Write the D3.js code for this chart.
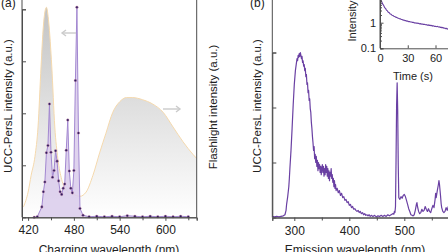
<!DOCTYPE html>
<html><head><meta charset="utf-8">
<script src="https://cdn.jsdelivr.net/npm/d3@7"></script>
<style>
html,body{margin:0;padding:0;background:#fff;}
svg{display:block;font-family:"Liberation Sans",Arial,sans-serif;}
</style></head>
<body>
<svg id="c" width="448" height="252"></svg>
<script>
// ---------- Panel (a) data ----------
const chargeWl = [428,432,438,440,442,444,446,448,450,452,454,456,458,460,462,464,466,468,470,472,474,476,478,480,482,484,486,488,492,500,510,520,530,540,550,560,570,580,590,600,610,620,630];
const uccPersL = [0.00,0.01,0.20,0.49,0.68,1.24,1.38,2.18,1.25,0.77,0.90,1.28,1.08,0.70,0.49,0.44,0.56,0.64,1.29,1.87,0.89,0.56,0.47,0.90,2.63,4.04,1.62,0.17,0.04,0.01,0.02,0.01,0.02,0.01,0.03,0.02,0.01,0.02,0.01,0.02,0.01,0.02,0.01];
const flashWl = [414,420,424,429,433,437,440,444,447,451,455,459,464,470,479,488,496,505,514,522,531,540,549,557,570,583,597,610,623,636,641];
const flashI  = [0.05,0.12,0.20,0.29,0.43,0.72,0.91,1.00,0.93,0.72,0.43,0.28,0.18,0.13,0.11,0.10,0.12,0.20,0.31,0.40,0.50,0.55,0.57,0.57,0.56,0.54,0.50,0.43,0.36,0.30,0.28];
const aMajorTicks = [420,480,540,600];
const aMinorTicks = [450,510,570,630];
const aYTicks = [1,2,3,4];

// ---------- Panel (b) data ----------
const emWl = [260,264,268,272,276,280,283,285,286,288,290,291,292,294,296,298,300,302,304,305,306,307,308,309,310,311,312,313,314,315,316,317,318,319,320,321,322,323,324,325,326,327,328,329,330,331,332,333,334,335,336,337,338,339,340,341,342,343,344,345,346,347,348,349,350,351,352,353,354,355,356,357,358,359,360,361,362,363,364,365,366,367,368,369,370,371,372,373,374,375,376,378,380,382,384,386,388,390,392,394,396,398,400,402,404,406,408,410,412,414,416,418,420,422,424,426,428,430,432,434,436,438,440,443,446,449,452,455,458,461,464,467,470,473,476,479,481,482,483,484,485,486,487,488,489,490,492,494,496,498,500,502,504,506,508,510,512,514,516,518,520,522,523,524,526,528,530,532,534,536,538,540,542,544,546,548,550,552,554,556,557,558,560,562,563,564,565,566,567,568,570,572,574,576,578,580,583,586,590,595];
const emInt = [0.02,0.01,0.02,0.01,0.02,0.03,0.05,0.13,0.24,0.38,0.56,0.71,0.89,1.22,1.62,2.05,2.42,2.67,2.82,2.89,2.85,2.95,2.91,2.98,2.93,3.00,2.95,2.89,2.93,2.82,2.85,2.75,2.78,2.67,2.71,2.56,2.60,2.42,2.45,2.27,2.31,2.13,2.16,1.98,1.91,1.73,1.62,1.47,1.36,1.22,1.29,1.07,1.15,1.00,1.11,0.93,1.04,0.85,1.00,0.89,0.96,0.82,0.93,0.78,0.89,0.96,0.82,0.93,0.75,0.89,0.78,0.96,0.82,0.93,0.75,0.89,0.71,0.85,0.67,0.82,0.75,0.89,0.71,0.78,0.64,0.71,0.56,0.67,0.53,0.60,0.49,0.53,0.45,0.49,0.40,0.44,0.36,0.38,0.31,0.33,0.27,0.29,0.22,0.24,0.18,0.20,0.15,0.16,0.13,0.11,0.13,0.09,0.11,0.07,0.09,0.05,0.07,0.04,0.05,0.03,0.05,0.02,0.04,0.02,0.04,0.01,0.03,0.02,0.04,0.02,0.04,0.02,0.05,0.03,0.05,0.07,0.06,0.11,0.09,0.20,1.04,2.04,2.45,1.95,0.95,0.36,0.33,0.38,0.35,0.40,0.42,0.38,0.31,0.24,0.16,0.11,0.05,0.04,0.03,0.05,0.13,0.24,0.27,0.20,0.11,0.07,0.09,0.15,0.11,0.13,0.20,0.15,0.11,0.16,0.11,0.09,0.16,0.22,0.18,0.33,0.44,0.36,0.49,0.60,0.67,0.60,0.49,0.38,0.25,0.18,0.11,0.09,0.11,0.18,0.13,0.20,0.13,0.05,0.04,0.02];
const bMajorTicks = [300,400,500];
const bMinorTicks = [350,450,550];
const bYTicks = [1,2,3];

// ---------- Inset data ----------
const decayT = [0,1,2,3,4,5,6,7,8,9,10,11,12,13,14,15,16,17,18,19,20,21,22,23,24,25,26,27,28,29,30,31,32,33,34,35,36,37,38,39,40,41,42,43,44,45,46,47,48,49,50,51,52,53,54,55,56,57,58,59,60,61,62,63,64,65,66,67,68,69,70,71,72,73,74,75,76,77,78,79,80];
const decayI = [9.6,7.6,6.5,5.3,4.7,3.9,3.6,3.1,2.9,2.55,2.45,2.2,2.15,1.95,1.9,1.78,1.74,1.64,1.62,1.52,1.5,1.42,1.41,1.34,1.33,1.26,1.26,1.2,1.2,1.15,1.15,1.1,1.11,1.06,1.07,1.03,1.04,0.99,1.0,0.96,0.97,0.94,0.94,0.9,0.92,0.88,0.89,0.86,0.87,0.83,0.85,0.8,0.82,0.79,0.8,0.76,0.78,0.74,0.76,0.72,0.73,0.7,0.72,0.68,0.69,0.66,0.67,0.63,0.65,0.61,0.62,0.59,0.6,0.56,0.58,0.55,0.56,0.54,0.55,0.52,0.53];
const insetXTicks = [0,30,60];
const insetYTicks = [0.1,1];
const insetYMinor = [0.2,0.3,0.4,0.5,0.6,0.7,0.8,0.9,2,3,4,5,6,7,8,9];

const svg = d3.select("#c");
const AX = "#4d4d4d", TXT = "#222";

// ================= Panel (a) =================
const xa = d3.scaleLinear().domain([412,641]).range([22,196.7]);
const ya = d3.scaleLinear().domain([0,4]).range([217.3,9.3]);
const yf = d3.scaleLinear().domain([0,1]).range([217.3,7.3]);

const defs = svg.append("defs");
const grad = defs.append("linearGradient").attr("id","gg")
  .attr("gradientUnits","userSpaceOnUse").attr("x1",0).attr("y1",7).attr("x2",0).attr("y2",217);
grad.append("stop").attr("offset",0).attr("stop-color","#c3c3c3");
grad.append("stop").attr("offset",1).attr("stop-color","#ffffff");
defs.append("clipPath").attr("id","clipA").append("rect").attr("x",22).attr("y",0).attr("width",174.7).attr("height",217.3);

const flash = flashWl.map((w,i)=>({x:w,y:flashI[i]}));
const gA = svg.append("g").attr("clip-path","url(#clipA)");
gA.append("path").datum(flash)
  .attr("d", d3.area().x(d=>xa(d.x)).y0(yf(0)).y1(d=>yf(d.y)).curve(d3.curveMonotoneX))
  .attr("fill","url(#gg)");
gA.append("path").datum(flash)
  .attr("d", d3.line().x(d=>xa(d.x)).y(d=>yf(d.y)).curve(d3.curveMonotoneX))
  .attr("fill","none").attr("stroke","#f5d9ad").attr("stroke-width",1);

const ucc = chargeWl.map((w,i)=>({x:w,y:uccPersL[i]}));
gA.append("path").datum(ucc)
  .attr("d", d3.area().x(d=>xa(d.x)).y0(ya(0)).y1(d=>ya(d.y)))
  .attr("fill","#d9cbeb").attr("fill-opacity",0.85);
gA.append("path").datum(ucc)
  .attr("d", d3.line().x(d=>xa(d.x)).y(d=>ya(d.y)))
  .attr("fill","none").attr("stroke","#a287d0").attr("stroke-width",1);
svg.append("g").selectAll("circle").data(ucc).join("circle")
  .attr("cx",d=>xa(d.x)).attr("cy",d=>ya(d.y)).attr("r",1.3)
  .attr("fill","#2a1b60").attr("stroke","#e79ab4").attr("stroke-width",0.4);

// arrows
function arrow(x1,x2,y){
  const dir = Math.sign(x2-x1);
  svg.append("line").attr("x1",x1).attr("x2",x2).attr("y1",y).attr("y2",y)
    .attr("stroke","#cbcbcb").attr("stroke-width",1.4);
  svg.append("path").attr("d",`M${x2-dir*4},${y-3}L${x2},${y}L${x2-dir*4},${y+3}`)
    .attr("fill","none").attr("stroke","#cbcbcb").attr("stroke-width",1.4);
}
arrow(76,62,33);
arrow(163,180,109);

// axes (a)
svg.append("line").attr("x1",22).attr("x2",22).attr("y1",-2).attr("y2",217.3).attr("stroke",AX);
svg.append("line").attr("x1",196.7).attr("x2",196.7).attr("y1",-2).attr("y2",217.3).attr("stroke",AX);
const gxA = svg.append("g").attr("transform","translate(0,217.3)")
  .call(d3.axisBottom(xa).tickValues(aMajorTicks).tickSize(3.5).tickPadding(5));
gxA.append("g").call(d3.axisBottom(xa).tickValues(aMinorTicks).tickSize(3).tickFormat(""));
const gyA = svg.append("g").attr("transform","translate(22,0)")
  .call(d3.axisLeft(ya).tickValues(aYTicks).tickSize(-4).tickFormat(""));

// ================= Panel (b) =================
const xb = d3.scaleLinear().domain([260,600]).range([272.3,459.3]);
const yb = d3.scaleLinear().domain([0,3]).range([217.5,52.5]);
const em = emWl.map((w,i)=>({x:w,y:emInt[i]}));
svg.append("path").datum(em)
  .attr("d", d3.line().x(d=>xb(d.x)).y(d=>yb(d.y)))
  .attr("fill","none").attr("stroke","#6a40a3").attr("stroke-width",1.2).attr("stroke-linejoin","round");
svg.append("line").attr("x1",272.3).attr("x2",272.3).attr("y1",-2).attr("y2",217.5).attr("stroke",AX);
const gxB = svg.append("g").attr("transform","translate(0,217.5)")
  .call(d3.axisBottom(xb).tickValues(bMajorTicks).tickSize(3.5).tickPadding(5));
gxB.append("g").call(d3.axisBottom(xb).tickValues(bMinorTicks).tickSize(3).tickFormat(""));
svg.append("g").attr("transform","translate(272.3,0)")
  .call(d3.axisLeft(yb).tickValues(bYTicks).tickSize(-4).tickFormat(""));

// ================= Inset =================
const xi = d3.scaleLinear().domain([0,80]).range([380,454]);
const yi = d3.scaleLog().domain([0.1,10]).range([48.3,-2.9]);
const dec = decayT.map((t,i)=>({x:t,y:decayI[i]}));
svg.append("path").datum(dec)
  .attr("d", d3.line().x(d=>xi(d.x)).y(d=>yi(d.y)))
  .attr("fill","none").attr("stroke","#6a40a3").attr("stroke-width",1.1);
svg.append("line").attr("x1",380).attr("x2",380).attr("y1",-2).attr("y2",48.3).attr("stroke",AX);
const gxI = svg.append("g").attr("transform","translate(0,48.3)")
  .call(d3.axisBottom(xi).tickValues(insetXTicks).tickSize(-3).tickPadding(6));
const gyI = svg.append("g").attr("transform","translate(380,0)")
  .call(d3.axisLeft(yi).tickValues(insetYTicks).tickSize(-3.5).tickPadding(4).tickFormat(d3.format("")));
gyI.append("g").call(d3.axisLeft(yi).tickValues(insetYMinor).tickSize(-2).tickFormat(""));

// style axes
svg.selectAll(".domain").attr("stroke",AX);
svg.selectAll(".tick line").attr("stroke",AX);
svg.selectAll(".tick text").attr("fill",TXT).attr("font-size","12px").attr("font-family","Liberation Sans, Arial, sans-serif");
gxI.selectAll(".tick text").attr("font-size","11px");
gyI.selectAll(".tick text").attr("font-size","11px");

// ================= Labels =================
function txt(x,y,s,opt={}){
  const t = svg.append("text").attr("x",x).attr("y",y).text(s)
    .attr("fill",TXT).attr("font-size",opt.size||"12px").attr("text-anchor",opt.anchor||"middle");
  if(opt.rot) t.attr("transform",`rotate(-90,${x},${y})`);
  return t;
}
txt(109,254,"Charging wavelength (nm)");
txt(355,254,"Emission wavelength (nm)");
txt(11.5,106,"UCC-PersL intensity (a.u.)",{rot:true,size:"11.5px"});
txt(217,107,"Flashlight intensity (a.u.)",{rot:true,size:"11.5px"});
txt(260.5,106,"UCC-PersL intensity (a.u.)",{rot:true,size:"11.5px"});
txt(355.5,21,"Intensity",{rot:true,size:"11px"});
txt(413,80,"Time (s)",{size:"11px"});
txt(1,6.5,"(a)",{anchor:"start",size:"12px"});
txt(250,6.5,"(b)",{anchor:"start",size:"12px"});
</script>
</body></html>
